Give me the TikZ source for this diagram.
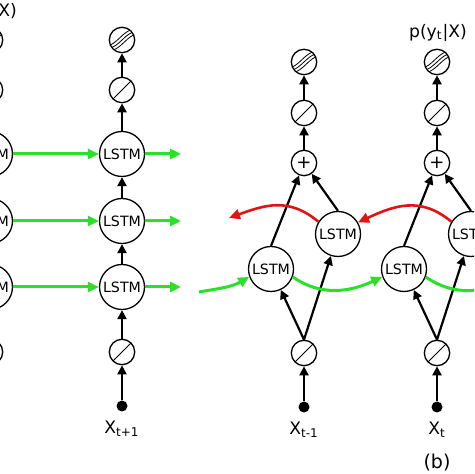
\documentclass[tikz,border=0pt]{standalone}
\usepackage{fontspec}
\setmainfont{DejaVu Sans}
\usepackage{tikz}
\usetikzlibrary{positioning,arrows.meta}
\definecolor{cgreen}{HTML}{2BE02B}
\definecolor{cred}{HTML}{E01414}
\newcommand{\lblfont}{\fontsize{8.6}{10}\selectfont}

\begin{document}
\begin{tikzpicture}[
    x=0.5pt,y=0.5pt,
    lstm/.style={circle,draw,line width=0.65pt,minimum size=22.5pt,inner sep=0pt,
                 font=\fontsize{7.1}{8}\selectfont},
    op/.style={circle,draw,line width=0.65pt,minimum size=12.7pt,inner sep=0pt},
    lin/.style={op,path picture={\draw[line width=0.5pt]
                 (path picture bounding box.south west) -- (path picture bounding box.north east);}},
    smx/.style={op,path picture={\foreach \k in {-1,0,1}
                 \draw[line width=0.4pt]
                   ([shift={(-6.5pt+\k*1.1pt,-4pt-\k*1.1pt)}]path picture bounding box.center)
                   .. controls +(4.5pt,0pt) and +(-4.5pt,0pt) ..
                   ([shift={(6.5pt+\k*1.1pt,4pt-\k*1.1pt)}]path picture bounding box.center);}},
    sumop/.style={op,font=\fontsize{9}{9}\selectfont},
    inp/.style={circle,fill,minimum size=5.5pt,inner sep=0pt},
    lbl/.style={font=\lblfont,inner sep=0.5pt},
    ar/.style={-{Triangle[length=4.5pt,width=4.5pt]},line width=1.1pt},
    fwd/.style={-{Triangle[length=5.5pt,width=5pt]},draw=cgreen,line width=1.5pt},
    bwd/.style={-{Triangle[length=5.5pt,width=5pt]},draw=cred,line width=1.3pt}]
    \path[fill=white,use as bounding box] (0,0) rectangle (474,474);
    \clip (0,0) rectangle (474,474);
    % (a) unidirectional
    \node[lbl]  (pa)    at (-12,462) {p(y\textsubscript{t}|X)};
    \node[smx]  (smx1)  at (-10,434) {};
    \node[lin]  (lin1)  at (-10,384) {};
    \node[lstm] (ls1c)  at (-10,320) {LSTM};
    \node[lstm] (ls1b)  at (-10,253) {LSTM};
    \node[lstm] (ls1a)  at (-10,187) {LSTM};
    \node[lin]  (in1)   at (-10,122) {};
    \node[inp]  (dot1)  at (-10,68)  {};
    \node[lbl,below=4pt of dot1] (x1) {X\textsubscript{t}};
    \node[lbl]  (capa)  at (-12,11)  {\fontsize{9.5}{10}\selectfont (a)};
    \node[smx]  (smx2)  at (122,434) {};
    \node[lin]  (lin2)  at (122,384) {};
    \node[lstm] (ls2c)  at (122,320) {LSTM};
    \node[lstm] (ls2b)  at (122,253) {LSTM};
    \node[lstm] (ls2a)  at (122,187) {LSTM};
    \node[lin]  (in2)   at (122,122) {};
    \node[inp]  (dot2)  at (122,68)  {};
    \node[lbl,below=4pt of dot2] (x2) {X\textsubscript{t+1}};
    \coordinate (out2c) at (181,320);
    \coordinate (out2b) at (181,253);
    \coordinate (out2a) at (181,187);
    \draw[ar] (dot2) -- (in2);
    \draw[ar] (in2)  -- (ls2a);
    \draw[ar] (ls2a) -- (ls2b);
    \draw[ar] (ls2b) -- (ls2c);
    \draw[ar] (ls2c) -- (lin2);
    \draw[ar] (lin2) -- (smx2);
    \draw[fwd] (ls1c) -- (ls2c);
    \draw[fwd] (ls1b) -- (ls2b);
    \draw[fwd] (ls1a) -- (ls2a);
    \draw[fwd] (ls2c) -- (out2c);
    \draw[fwd] (ls2b) -- (out2b);
    \draw[fwd] (ls2a) -- (out2a);
    % (b) bidirectional
    \node[smx]   (smx3) at (304,412) {};
    \node[lin]   (lin3) at (304,361) {};
    \node[sumop] (pl3)  at (304,311) {+};
    \node[lstm]  (fw3)  at (271,205) {LSTM};
    \node[lstm]  (bw3)  at (338,240) {LSTM};
    \node[lin]   (in3)  at (304,121) {};
    \node[inp]   (dot3) at (304,67)  {};
    \node[lbl,below=4pt of dot3] (x3) {X\textsubscript{t-1}};
    \node[lbl]   (pb)   at (438,441) {p(y\textsubscript{t}|X)};
    \node[smx]   (smx4) at (437,412) {};
    \node[lin]   (lin4) at (437,361) {};
    \node[sumop] (pl4)  at (437,311) {+};
    \node[lstm]  (fw4)  at (404,205) {LSTM};
    \node[lstm]  (bw4)  at (471,240) {LSTM};
    \node[lin]   (in4)  at (437,121) {};
    \node[inp]   (dot4) at (437,67)  {};
    \node[lbl,below=4pt of dot4] (x4) {X\textsubscript{t}};
    \node[lbl]   (capb) at (437,11)  {\fontsize{9.5}{10}\selectfont (b)};
    \coordinate (gin)  at (199,182);
    \coordinate (gout) at (516,197);
    \coordinate (rout) at (229,256);
    \draw[ar] (dot3) -- (in3);
    \draw[ar] (in3.north) -- (fw3);
    \draw[ar] (in3.north) -- (bw3);
    \draw[ar] (fw3.north) -- (pl3);
    \draw[ar] (bw3.north) -- (pl3);
    \draw[ar] (pl3)  -- (lin3);
    \draw[ar] (lin3) -- (smx3);
    \draw[ar] (dot4) -- (in4);
    \draw[ar] (in4.north) -- (fw4);
    \draw[ar] (in4.north) -- (bw4);
    \draw[ar] (fw4.north) -- (pl4);
    \draw[ar] (bw4.north) -- (pl4);
    \draw[ar] (pl4)  -- (lin4);
    \draw[ar] (lin4) -- (smx4);
    \draw[fwd] (gin) to[out=10,in=210] (fw3.200);
    \draw[fwd] (fw3.-20) to[out=-35,in=205] (fw4.200);
    \draw[fwd] (fw4.-20) to[out=-35,in=205] (gout);
    \draw[bwd] (bw3.148) to[out=140,in=20,looseness=1.1] (rout);
    \draw[bwd] (bw4.148) to[out=140,in=25,looseness=1.1] (bw3.30);
\end{tikzpicture}
\end{document}
